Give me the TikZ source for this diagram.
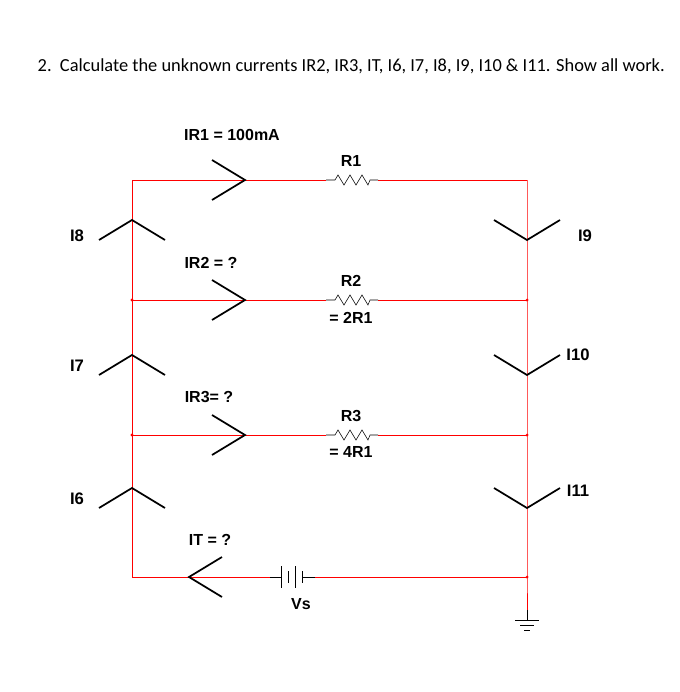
\documentclass[tikz,border=0pt]{standalone}
\usepackage{fontspec}
\setmainfont{Liberation Sans}
\newfontfamily\titlefont{Carlito}
\usepackage{tikz}

\begin{document}
\begin{tikzpicture}[x=0.75pt,y=-0.75pt,
  wire/.style={red,semithick},
  chev/.style={black,line width=1.3pt},
  part/.style={black,thin},
  lbl/.style={font=\bfseries\fontsize{12}{14}\selectfont,inner sep=1pt},
  big/.style={font=\bfseries\fontsize{12.5}{14}\selectfont,inner sep=1pt},
  dot/.style={circle,fill=red,inner sep=0.8pt}]
\useasboundingbox (0,0) rectangle (680,692);
\node[anchor=west,font=\titlefont\fontsize{13.8}{16}\selectfont] (title) at (33,66)
  {2.\ \ Calculate the unknown currents IR2, IR3, IT, I6, I7, I8, I9, I10 \& I11. Show all work.};

% wires
\coordinate (tl) at (132,180); \coordinate (tr) at (527,180);
\coordinate (bl) at (132,577); \coordinate (br) at (527,577);
\draw[wire] (tl) -- (bl);
\draw[wire] (tr) -- (br) -- (527,610);
\draw[wire] (tl) -- (326,180); \draw[wire] (378,180) -- (tr);
\draw[wire] (132,300) -- (326,300); \draw[wire] (378,300) -- (527,300);
\draw[wire] (132,435) -- (326,435); \draw[wire] (378,435) -- (527,435);
\draw[wire] (bl) -- (270,577); \draw[wire] (315,577) -- (br);

% junctions
\foreach \p in {(132,300),(132,435),(527,300),(527,435),(527,577)}
  \node[dot] at \p {};

% resistors
\foreach \y/\n in {180/1,300/2,435/3}{
  \draw[part] (326,\y) -- (335,\y) -- (338,\y-5) -- (344,\y+5) -- (350,\y-5)
    -- (356,\y+5) -- (362,\y-5) -- (368,\y+5) -- (370,\y) -- (378,\y);
  \node[lbl] (R\n) at (351,\y-19) {R\n};
}
\node[lbl] (R2v) at (351,318) {= 2R1};
\node[lbl] (R3v) at (351,452) {= 4R1};

% battery
\draw[part] (270,577) -- (281,577);
\draw[part] (281,566) -- (281,588);
\draw[part] (288,571) -- (288,583);
\draw[part] (295,566) -- (295,588);
\draw[part] (302,571) -- (302,583);
\draw[part] (302,577) -- (315,577);
\node[lbl] (Vs) at (301,604) {Vs};

% ground
\draw[part] (527,610) -- (527,620);
\draw[part] (515,620) -- (539,620);
\draw[part] (520,625) -- (534,625);
\draw[part] (524,630) -- (530,630);

% current chevrons
\foreach \y in {180,300,435}
  \draw[chev] (212,\y-20) -- (245,\y) -- (212,\y+20);
\draw[chev] (222,557) -- (189,577) -- (222,597);
\foreach \y in {220,355,488}
  \draw[chev] (99,\y+20) -- (132,\y) -- (165,\y+20);
\foreach \y in {240,375,508}
  \draw[chev] (494,\y-20) -- (527,\y) -- (560,\y-20);

% labels
\node[lbl] (IR1) at (232,135) {IR1 = 100mA};
\node[lbl] (IR2) at (211,263) {IR2 = ?};
\node[lbl] (IR3) at (209,397) {IR3= ?};
\node[lbl] (IT) at (210,540) {IT = ?};
\node[big] (I8) at (77,236) {I8};
\node[big] (I7) at (77,366) {I7};
\node[big] (I6) at (77,499) {I6};
\node[big] (I9) at (585,236) {I9};
\node[big] (I10) at (578,355) {I10};
\node[big] (I11) at (578,491) {I11};
\end{tikzpicture}
\end{document}
